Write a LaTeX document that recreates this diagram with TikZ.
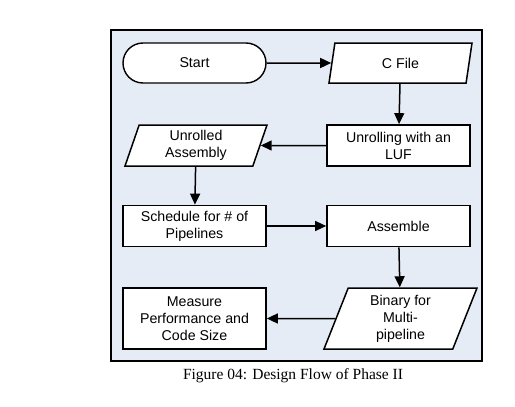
\documentclass[tikz,border=0pt]{standalone}
\usepackage{fontspec}
\setmainfont{Liberation Sans}
\newfontfamily\capfont{Liberation Serif}
\usetikzlibrary{shapes.geometric,arrows.meta}
\definecolor{panel}{HTML}{E6ECF6}
\tikzset{
  flowtext/.style={font=\fontsize{14.2}{17}\selectfont, align=center, text=black},
  procbox/.style={flowtext, draw=black, line width=1.7pt, fill=white, rectangle, minimum width=143pt, minimum height=41pt, inner sep=1pt},
  termbox/.style={flowtext, draw=black, line width=1.4pt, fill=white, rectangle, rounded corners=20pt, minimum width=143pt, minimum height=40pt, inner sep=1pt},
  iobox/.style={flowtext, draw=black, line width=1.5pt, fill=white, trapezium, trapezium stretches body, inner sep=1pt},
  flowarrow/.style={draw=black, line width=1.5pt, -{Triangle[length=11pt,width=10pt]}},
}
\begin{document}
\begin{tikzpicture}[x=1pt,y=-1pt]
\useasboundingbox (0,0) rectangle (515,407);
\node[draw=black, line width=2.4pt, fill=panel, minimum width=371pt, minimum height=331pt, inner sep=0pt] (frame) at (296.5,195.5) {};
\node[termbox] (start) at (194.5,63) {Start};
\node[iobox, trapezium left angle=64.6, trapezium right angle=115.4, minimum width=143pt, minimum height=40pt] (cfile) at (400.5,63) {C File};
\node[procbox] (unroll) at (398.5,145.5) {Unrolling with an\\LUF};
\node[iobox, trapezium left angle=66.3, trapezium right angle=113.7, minimum width=142pt, minimum height=41pt] (unrolled) at (196,145.5) {Unrolled\\Assembly};
\node[procbox] (sched) at (194.5,226) {Schedule for \# of\\Pipelines};
\node[procbox] (asm) at (398.5,226) {Assemble};
\node[iobox, trapezium left angle=63.8, trapezium right angle=116.2, minimum width=153pt, minimum height=61pt] (binary) at (400.5,318.5) {Binary for\\Multi-\\pipeline};
\node[procbox, minimum height=61pt] (measure) at (194.5,318.5) {Measure\\Performance and\\Code Size};
\draw[flowarrow] (start) -- (cfile);
\draw[flowarrow] (cfile) -- (unroll);
\draw[flowarrow] (unroll) -- (unrolled);
\draw[flowarrow] (unrolled) -- (sched);
\draw[flowarrow] (sched) -- (asm);
\draw[flowarrow] (asm) -- (binary);
\draw[flowarrow] (binary) -- (measure);
\node[font=\capfont\fontsize{15.5}{18}\selectfont] (caption) at (293,376) {Figure 04: Design Flow of Phase II};
\end{tikzpicture}
\end{document}
